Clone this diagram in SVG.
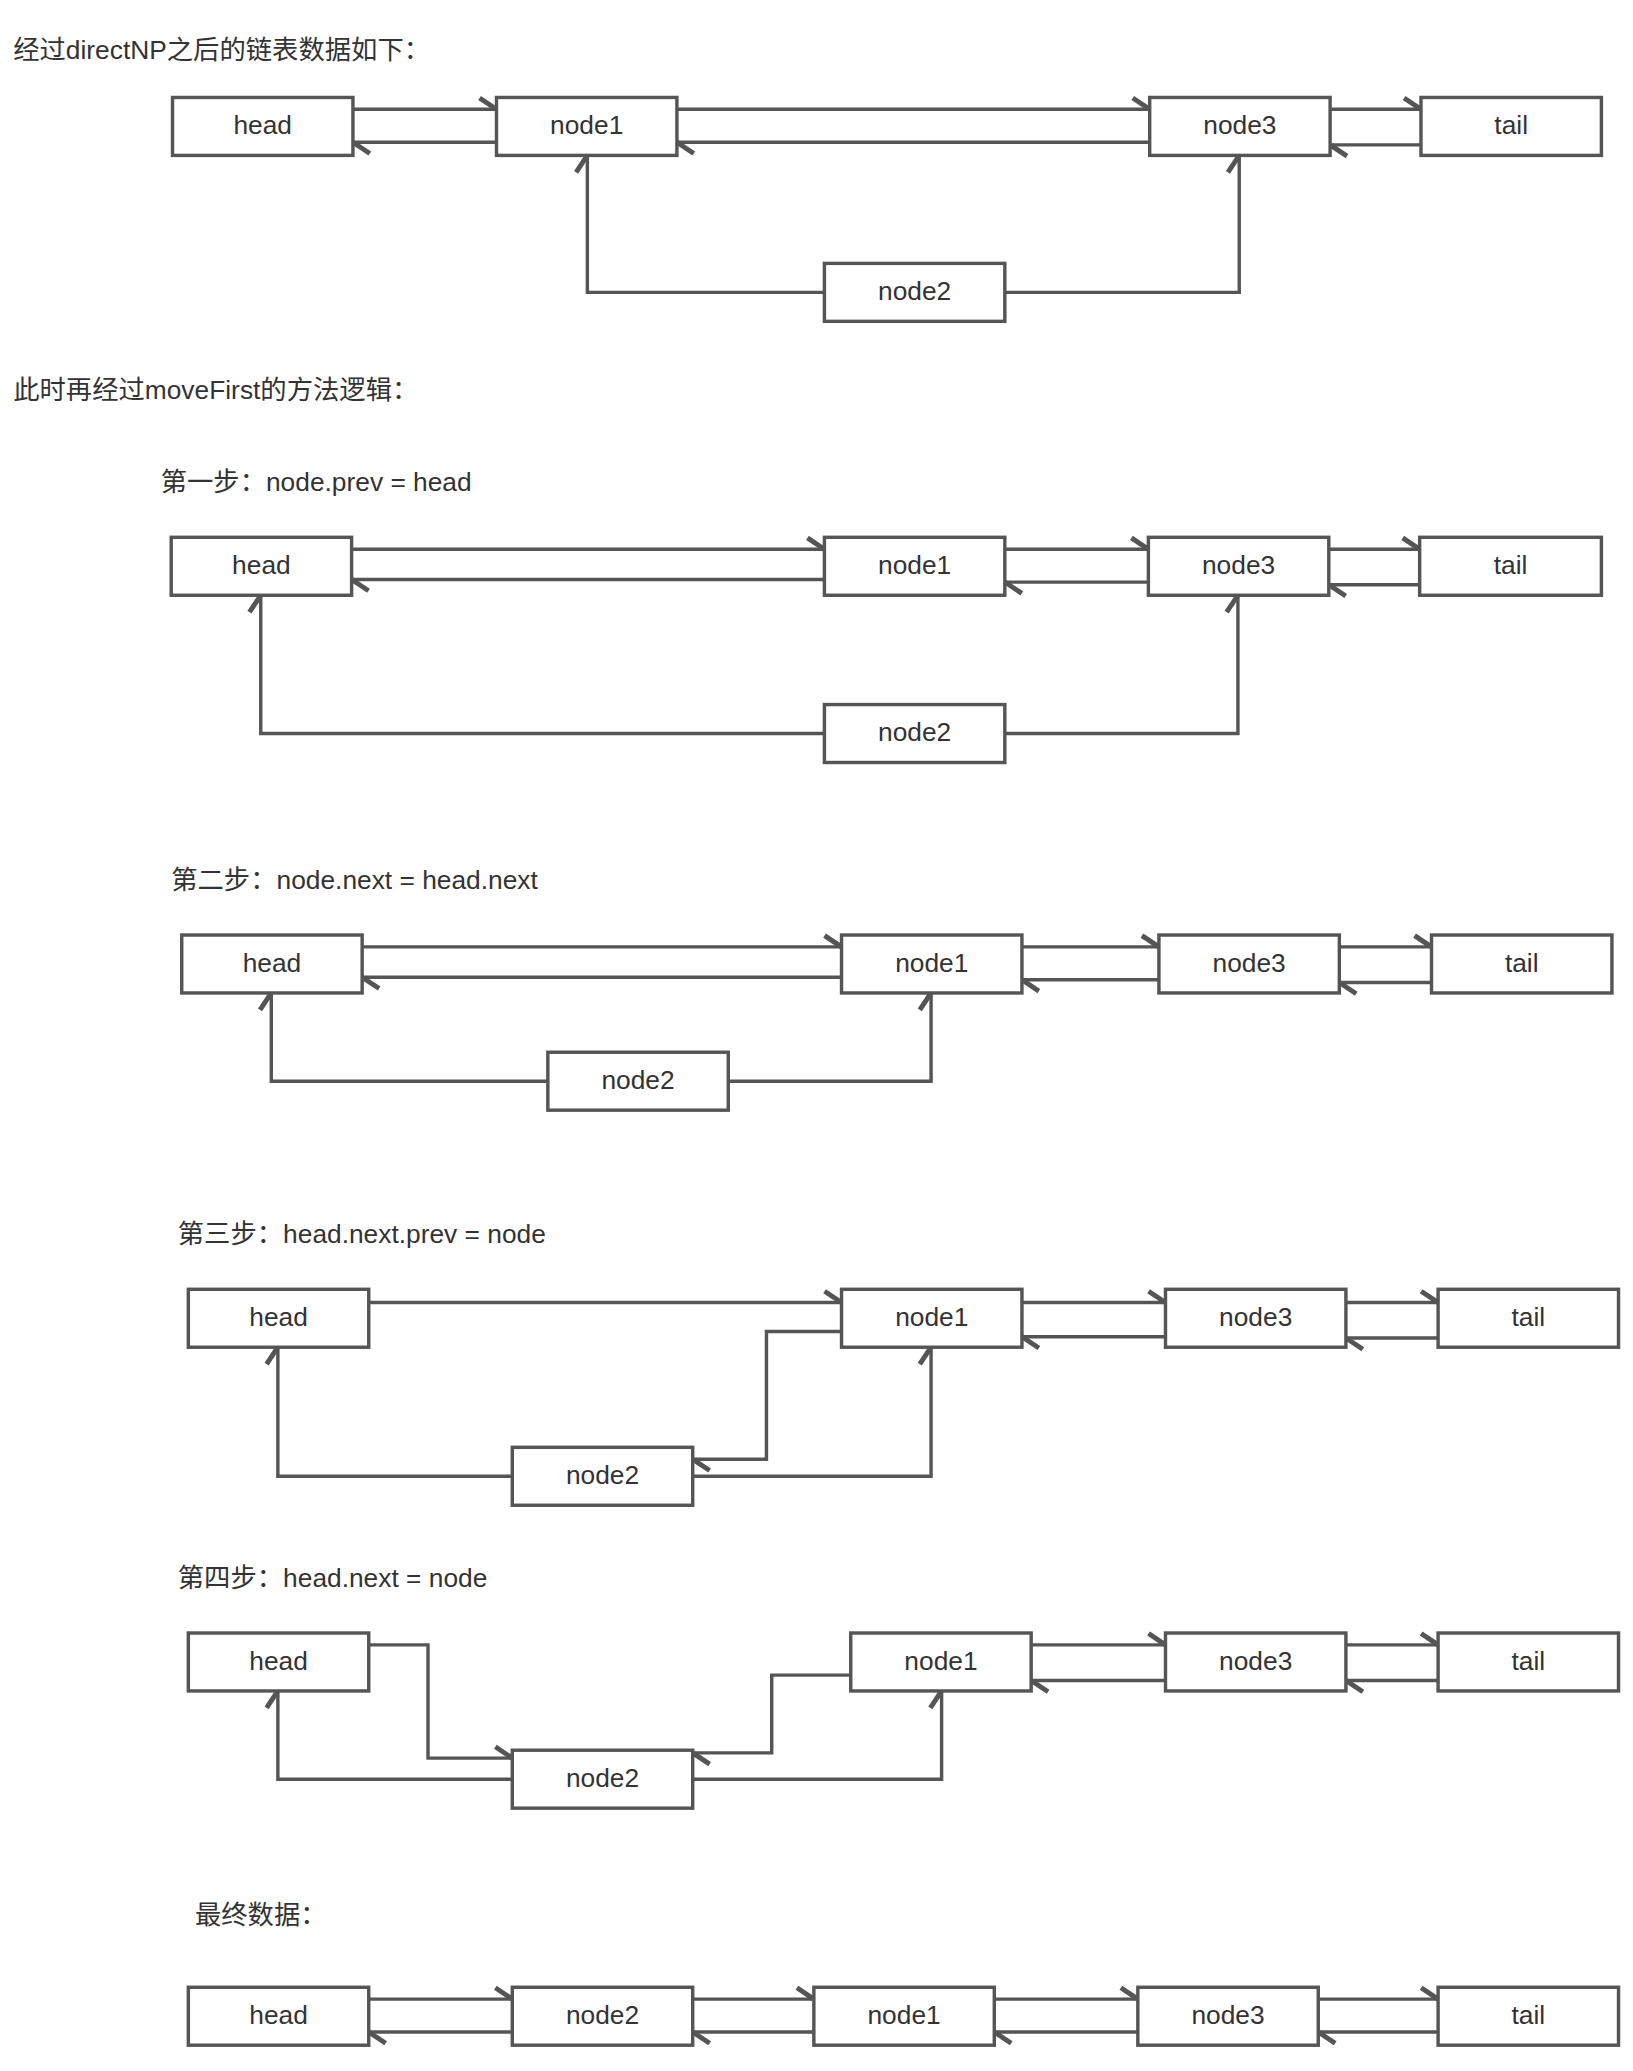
<svg xmlns="http://www.w3.org/2000/svg" width="1633" height="2071" viewBox="0 0 1633 2071">
<style>
.n rect{fill:#fff;stroke:#555;stroke-width:2.6}
.n text{font-family:"Liberation Sans","Noto Sans CJK SC",sans-serif;font-size:20px;fill:#333;text-anchor:middle}
.t{font-family:"Liberation Sans","Noto Sans CJK SC",sans-serif;font-size:20px;fill:#333}
#c path{fill:none;stroke:#555;stroke-width:2.6;marker-end:url(#a)}
</style>
<defs>
<marker id="a" markerUnits="userSpaceOnUse" markerWidth="20" markerHeight="20" viewBox="-12 -10 14 14" refX="0" refY="0" orient="auto" overflow="visible">
<path d="M-9 -6 L0 0" fill="none" stroke="#555" stroke-width="2.6"/>
</marker>
</defs>
<rect width="1633" height="2071" fill="#fff"/>
<g transform="scale(1.31694)">
<text class="t" x="10" y="45">经过directNP之后的链表数据如下：</text>
<text class="t" x="10" y="303">此时再经过moveFirst的方法逻辑：</text>
<text class="t" x="122" y="373">第一步：node.prev = head</text>
<text class="t" x="130" y="675">第二步：node.next = head.next</text>
<text class="t" x="135" y="944">第三步：head.next.prev = node</text>
<text class="t" x="135" y="1205">第四步：head.next = node</text>
<text class="t" x="148" y="1461">最终数据：</text>

<g id="c">
<!-- section 0 -->
<path d="M268 83H377"/><path d="M377 108H268"/>
<path d="M514 83H873"/><path d="M873 108H514"/>
<path d="M1010 83H1079"/><path d="M1079 110H1010"/>
<path d="M626 222H446V118"/><path d="M763 222H941V118"/>
<!-- step1 -->
<path d="M267 417H626"/><path d="M626 440H267"/>
<path d="M763 417H872"/><path d="M872 442H763"/>
<path d="M1009 417H1078"/><path d="M1078 444H1009"/>
<path d="M626 557H198V452"/><path d="M763 557H940V452"/>
<!-- step2 -->
<path d="M275 719H639"/><path d="M639 742H275"/>
<path d="M776 719H880"/><path d="M880 744H776"/>
<path d="M1017 719H1087"/><path d="M1087 746H1017"/>
<path d="M416 821H206V754"/><path d="M553 821H707V754"/>
<!-- step3 -->
<path d="M280 989H639"/>
<path d="M776 989H885"/><path d="M885 1015H776"/>
<path d="M1022 989H1092"/><path d="M1092 1016H1022"/>
<path d="M639 1011H582V1108H526"/>
<path d="M389 1121H211V1023"/><path d="M526 1121H707V1023"/>
<!-- step4 -->
<path d="M280 1249H325V1335H389"/>
<path d="M646 1272H586V1331H526"/>
<path d="M389 1351H211V1284"/><path d="M526 1351H715V1284"/>
<path d="M783 1249H885"/><path d="M885 1276H783"/>
<path d="M1022 1249H1092"/><path d="M1092 1276H1022"/>
<!-- final -->
<path d="M280 1518H389"/><path d="M389 1543H280"/>
<path d="M526 1518H618"/><path d="M618 1543H526"/>
<path d="M755 1518H864"/><path d="M864 1543H755"/>
<path d="M1001 1518H1092"/><path d="M1092 1543H1001"/>
</g>

<g id="s0-head" class="n"><rect x="131" y="74" width="137" height="44"/><text x="199.5" y="102">head</text></g>
<g id="s0-node1" class="n"><rect x="377" y="74" width="137" height="44"/><text x="445.5" y="102">node1</text></g>
<g id="s0-node3" class="n"><rect x="873" y="74" width="137" height="44"/><text x="941.5" y="102">node3</text></g>
<g id="s0-tail" class="n"><rect x="1079" y="74" width="137" height="44"/><text x="1147.5" y="102">tail</text></g>
<g id="s0-node2" class="n"><rect x="626" y="200" width="137" height="44"/><text x="694.5" y="228">node2</text></g>

<g id="s1-head" class="n"><rect x="130" y="408" width="137" height="44"/><text x="198.5" y="436">head</text></g>
<g id="s1-node1" class="n"><rect x="626" y="408" width="137" height="44"/><text x="694.5" y="436">node1</text></g>
<g id="s1-node3" class="n"><rect x="872" y="408" width="137" height="44"/><text x="940.5" y="436">node3</text></g>
<g id="s1-tail" class="n"><rect x="1078" y="408" width="138" height="44"/><text x="1147" y="436">tail</text></g>
<g id="s1-node2" class="n"><rect x="626" y="535" width="137" height="44"/><text x="694.5" y="563">node2</text></g>

<g id="s2-head" class="n"><rect x="138" y="710" width="137" height="44"/><text x="206.5" y="738">head</text></g>
<g id="s2-node1" class="n"><rect x="639" y="710" width="137" height="44"/><text x="707.5" y="738">node1</text></g>
<g id="s2-node3" class="n"><rect x="880" y="710" width="137" height="44"/><text x="948.5" y="738">node3</text></g>
<g id="s2-tail" class="n"><rect x="1087" y="710" width="137" height="44"/><text x="1155.5" y="738">tail</text></g>
<g id="s2-node2" class="n"><rect x="416" y="799" width="137" height="44"/><text x="484.5" y="827">node2</text></g>

<g id="s3-head" class="n"><rect x="143" y="979" width="137" height="44"/><text x="211.5" y="1007">head</text></g>
<g id="s3-node1" class="n"><rect x="639" y="979" width="137" height="44"/><text x="707.5" y="1007">node1</text></g>
<g id="s3-node3" class="n"><rect x="885" y="979" width="137" height="44"/><text x="953.5" y="1007">node3</text></g>
<g id="s3-tail" class="n"><rect x="1092" y="979" width="137" height="44"/><text x="1160.5" y="1007">tail</text></g>
<g id="s3-node2" class="n"><rect x="389" y="1099" width="137" height="44"/><text x="457.5" y="1127">node2</text></g>

<g id="s4-head" class="n"><rect x="143" y="1240" width="137" height="44"/><text x="211.5" y="1268">head</text></g>
<g id="s4-node1" class="n"><rect x="646" y="1240" width="137" height="44"/><text x="714.5" y="1268">node1</text></g>
<g id="s4-node3" class="n"><rect x="885" y="1240" width="137" height="44"/><text x="953.5" y="1268">node3</text></g>
<g id="s4-tail" class="n"><rect x="1092" y="1240" width="137" height="44"/><text x="1160.5" y="1268">tail</text></g>
<g id="s4-node2" class="n"><rect x="389" y="1329" width="137" height="44"/><text x="457.5" y="1357">node2</text></g>

<g id="s5-head" class="n"><rect x="143" y="1509" width="137" height="44"/><text x="211.5" y="1537">head</text></g>
<g id="s5-node2" class="n"><rect x="389" y="1509" width="137" height="44"/><text x="457.5" y="1537">node2</text></g>
<g id="s5-node1" class="n"><rect x="618" y="1509" width="137" height="44"/><text x="686.5" y="1537">node1</text></g>
<g id="s5-node3" class="n"><rect x="864" y="1509" width="137" height="44"/><text x="932.5" y="1537">node3</text></g>
<g id="s5-tail" class="n"><rect x="1092" y="1509" width="137" height="44"/><text x="1160.5" y="1537">tail</text></g>
</g>
</svg>
